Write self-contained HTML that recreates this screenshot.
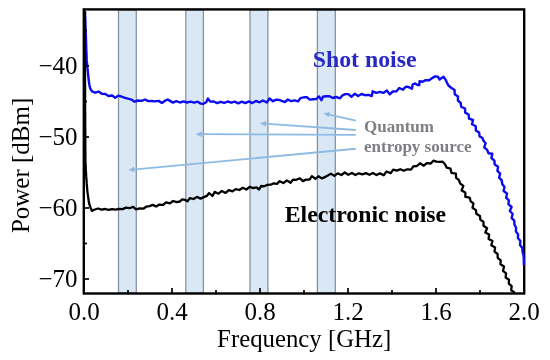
<!DOCTYPE html>
<html><head><meta charset="utf-8"><style>
html,body{margin:0;padding:0;background:#fff;}
svg{display:block;}
text{font-family:"Liberation Serif",serif;}
</style></head><body>
<svg width="550" height="360" viewBox="0 0 550 360">
<rect width="550" height="360" fill="#fff"/>
<rect x="118.5" y="10" width="17.8" height="283" fill="#dae7f4" stroke="#8290a0" stroke-width="1.25"/><rect x="185.8" y="10" width="17.6" height="283" fill="#dae7f4" stroke="#8290a0" stroke-width="1.25"/><rect x="250.0" y="10" width="17.9" height="283" fill="#dae7f4" stroke="#8290a0" stroke-width="1.25"/><rect x="317.4" y="10" width="17.9" height="283" fill="#dae7f4" stroke="#8290a0" stroke-width="1.25"/>
<g stroke="#8dbbe3" stroke-width="1.8" fill="none"><line x1="355.8" y1="120.70" x2="327.79" y2="114.30"/><line x1="355.8" y1="130.00" x2="264.49" y2="123.61"/><line x1="355.8" y1="134.90" x2="200.10" y2="134.22"/><line x1="355.8" y1="148.75" x2="132.78" y2="169.58"/></g><g fill="#8dbbe3"><path d="M323.40 113.30L329.87 111.91L328.63 117.37Z"/><path d="M260.00 123.30L266.18 120.93L265.79 126.51Z"/><path d="M195.60 134.20L201.61 131.43L201.59 137.03Z"/><path d="M128.30 170.00L134.01 166.65L134.53 172.23Z"/></g>
<rect x="83.8" y="9.4" width="440.4" height="284.1" fill="none" stroke="#000" stroke-width="2.4"/>
<path d="M85.0 11.0L85.1 14.5L85.3 18.1L85.4 21.6L85.5 25.1L85.6 28.7L85.7 32.2L85.9 35.7L86.0 39.2L86.1 42.8L86.2 46.3L86.3 49.8L86.5 53.4L86.6 56.9L86.7 60.4L87.1 63.9L87.4 67.4L87.8 71.0L88.1 74.5L88.5 78.0L88.9 81.5L89.4 85.0L90.2 88.4L92.0 91.4L95.2 92.7L98.7 91.6L101.8 93.7L105.4 94.0L108.4 96.0L112.2 95.5L115.2 97.9L118.3 95.6L121.7 96.7L125.0 97.8L128.0 98.7L131.4 99.6L134.5 101.7L138.0 100.5L141.6 100.9L145.0 99.5L148.2 101.1L151.6 101.0L155.0 101.4L158.6 100.9L161.9 102.9L164.7 100.9L167.7 99.5L170.0 100.9L172.9 102.6L176.4 101.1L180.0 102.5L183.5 101.4L187.0 102.5L190.6 101.7L194.1 102.7L197.7 101.7L200.5 103.6L203.1 103.9L206.2 102.3L207.9 98.5L210.2 101.6L213.7 101.5L217.1 103.1L220.6 101.8L224.2 102.9L227.7 101.5L231.2 102.7L234.8 101.7L238.3 103.4L241.8 101.7L245.4 103.1L248.9 101.4L252.4 103.1L255.9 100.9L259.5 102.3L262.9 100.5L266.8 102.5L269.5 98.5L273.0 101.2L276.3 99.6L279.1 99.9L281.6 100.9L284.9 102.0L287.9 99.5L291.1 101.2L294.6 100.4L298.2 101.3L300.4 98.1L303.8 97.3L306.9 97.1L309.7 99.6L312.9 99.2L316.3 99.0L318.9 96.4L321.4 100.2L322.9 96.8L326.0 96.3L329.5 96.3L332.7 98.0L336.2 97.0L340.0 98.3L342.5 95.4L345.2 94.1L348.4 94.1L351.4 96.8L354.7 93.8L358.1 96.0L361.5 94.0L365.0 95.2L368.5 94.9L371.8 96.1L372.7 91.3L376.3 92.8L379.8 91.9L383.3 92.9L386.8 90.5L389.7 94.4L392.8 91.5L396.5 91.3L399.2 88.0L403.0 89.7L404.9 87.4L407.1 86.6L409.6 87.5L411.9 88.7L412.7 84.5L415.1 83.4L417.6 85.0L419.3 85.1L419.6 81.1L422.5 81.7L425.6 80.1L429.2 80.3L432.1 78.1L435.2 76.4L437.8 76.6L439.6 79.6L441.6 78.0L443.5 76.7L445.5 79.6L447.0 82.8L448.7 85.8L451.5 88.0L454.6 90.1L454.7 94.2L458.0 96.5L457.9 100.5L460.7 103.0L461.2 106.8L465.1 108.5L465.1 112.6L468.6 114.5L469.0 118.6L473.0 120.0L472.0 124.3L475.8 126.3L475.8 130.4L479.1 132.5L479.6 136.4L482.5 138.0L483.2 140.3L485.6 143.3L484.2 147.4L487.2 149.9L488.4 153.2L492.3 153.8L491.4 158.0L494.4 160.6L494.7 164.4L498.1 166.7L497.4 170.8L500.2 173.6L499.1 177.6L501.8 180.4L502.2 184.0L504.5 187.0L503.6 191.0L507.0 193.5L506.1 197.6L508.9 200.3L508.4 204.2L511.6 207.0L509.8 211.0L512.7 214.0L511.6 217.9L514.3 220.8L514.4 224.5L516.1 227.7L515.9 231.4L518.1 234.4L517.9 238.1L520.4 241.1L520.0 244.9L522.3 247.9L522.5 251.5L523.4 254.9L523.8 258.4L523.8 262.0L523.9 265.5" fill="none" stroke="#0c0cee" stroke-width="2.4" stroke-linejoin="round"/>
<path d="M84.8 11.0L84.8 14.5L84.8 18.0L84.8 21.6L84.8 25.1L84.9 28.6L84.9 32.1L84.9 35.6L84.9 39.2L84.9 42.7L84.9 46.2L84.9 49.7L84.9 53.2L85.0 56.8L85.0 60.3L85.0 63.8L85.0 67.3L85.0 70.8L85.0 74.4L85.0 77.9L85.0 81.4L85.0 84.9L85.1 88.4L85.1 92.0L85.1 95.5L85.1 99.0L85.1 102.5L85.1 106.0L85.1 109.5L85.2 113.1L85.2 116.6L85.2 120.1L85.2 123.6L85.2 127.1L85.3 130.7L85.3 134.2L85.3 137.7L85.3 141.2L85.3 144.7L85.3 148.3L85.4 151.8L85.4 155.3L85.4 158.8L85.5 162.3L85.7 165.9L85.8 169.4L86.0 172.9L86.2 176.4L86.5 179.9L86.7 183.4L87.0 186.9L87.3 190.4L87.7 193.9L88.2 197.4L88.7 200.9L89.4 204.4L90.5 207.7L91.9 210.9L94.8 209.5L98.1 208.5L101.5 209.6L105.1 209.0L108.6 209.9L112.1 209.1L115.6 209.7L119.1 208.8L122.6 209.1L126.0 207.6L129.6 208.2L133.1 206.8L136.1 209.3L139.7 208.3L143.3 208.7L146.1 206.7L149.6 206.1L152.7 204.9L156.1 206.5L159.4 204.6L163.1 204.8L166.1 202.4L169.9 203.4L173.1 201.0L176.7 202.1L179.9 201.5L182.1 199.4L184.9 199.9L187.5 201.2L189.8 198.1L193.6 199.0L196.9 196.9L200.6 198.6L203.9 197.1L206.8 195.9L209.1 193.1L212.5 196.0L214.6 191.9L218.6 193.7L221.8 190.9L225.6 192.9L228.8 190.1L232.5 191.3L235.7 189.1L239.4 190.0L242.7 187.8L246.4 189.5L249.6 186.9L253.2 188.1L256.5 187.3L259.1 189.5L261.1 186.0L264.3 186.3L267.5 184.8L270.7 184.7L273.7 183.3L277.0 183.8L279.7 181.2L283.4 183.1L286.9 180.4L290.5 182.8L293.0 179.6L296.3 179.8L300.0 178.3L302.9 181.1L305.9 179.6L309.5 179.6L311.9 176.2L315.4 178.8L318.5 176.3L321.7 178.4L325.0 177.1L327.8 175.6L330.8 173.6L334.3 175.9L337.7 173.4L341.4 175.0L344.8 172.5L348.3 174.8L351.9 173.0L355.4 175.0L358.8 173.3L362.4 174.4L365.9 173.1L369.4 174.8L372.9 172.9L376.5 175.0L379.9 173.4L383.7 175.2L386.5 171.5L390.7 173.1L393.2 169.6L396.8 170.6L400.3 169.2L403.8 170.7L407.2 169.3L411.0 169.6L413.3 166.3L416.9 166.0L420.0 163.3L423.8 165.7L426.8 163.2L430.8 163.5L433.4 160.7L436.5 161.7L439.7 161.8L442.7 161.7L445.0 164.3L446.7 167.6L450.5 168.7L451.4 172.8L455.9 173.6L456.1 177.8L459.0 180.1L460.1 183.5L463.4 185.9L461.6 190.4L465.3 192.5L465.4 196.9L469.7 197.6L470.6 201.1L473.5 203.6L472.5 207.8L475.9 210.1L476.4 213.8L479.9 215.9L480.4 219.7L483.5 221.9L483.5 225.8L487.1 228.3L485.3 232.5L489.1 234.6L488.6 238.9L492.5 240.9L491.3 245.2L495.1 247.4L494.5 251.6L497.6 254.0L497.7 257.8L500.7 260.3L500.5 264.3L504.0 266.5L503.0 270.9L506.1 273.3L505.6 277.5L509.0 279.8L508.8 283.7L511.7 286.2L511.2 290.2L514.8 292.7" fill="none" stroke="#000" stroke-width="2.3" stroke-linejoin="round"/>
<g stroke="#000" stroke-width="1.7"><line x1="128" y1="293" x2="128" y2="290"/><line x1="172" y1="293" x2="172" y2="288"/><line x1="216" y1="293" x2="216" y2="290"/><line x1="260" y1="293" x2="260" y2="288"/><line x1="304" y1="293" x2="304" y2="290"/><line x1="348" y1="293" x2="348" y2="288"/><line x1="392" y1="293" x2="392" y2="290"/><line x1="436" y1="293" x2="436" y2="288"/><line x1="480" y1="293" x2="480" y2="290"/><line x1="84" y1="30.5" x2="87" y2="30.5"/><line x1="84" y1="66.0" x2="89" y2="66.0"/><line x1="84" y1="101.5" x2="87" y2="101.5"/><line x1="84" y1="137.0" x2="89" y2="137.0"/><line x1="84" y1="172.5" x2="87" y2="172.5"/><line x1="84" y1="208.0" x2="89" y2="208.0"/><line x1="84" y1="243.5" x2="87" y2="243.5"/><line x1="84" y1="279.0" x2="89" y2="279.0"/></g>
<g font-size="25" text-anchor="middle" fill="#000"><text x="84" y="320">0.0</text><text x="172" y="320">0.4</text><text x="260" y="320">0.8</text><text x="348" y="320">1.2</text><text x="436" y="320">1.6</text><text x="524" y="320">2.0</text></g>
<g font-size="25" text-anchor="end" fill="#000"><text x="77.6" y="73.6">&#8722;40</text><text x="77.6" y="144.6">&#8722;50</text><text x="77.6" y="215.6">&#8722;60</text><text x="77.6" y="286.6">&#8722;70</text></g>
<text x="304.2" y="346.8" font-size="24.8" text-anchor="middle">Frequency [GHz]</text>
<text transform="translate(28.6,165.4) rotate(-90)" font-size="25" text-anchor="middle">Power [dBm]</text>
<text x="312.7" y="67.0" font-size="23.8" font-weight="bold" fill="#2828c4">Shot noise</text>
<text x="284.7" y="222.3" font-size="23.8" font-weight="bold" fill="#000">Electronic noise</text>
<text x="364" y="131.7" font-size="17" font-weight="bold" fill="#7d7f84">Quantum</text>
<text x="364" y="151.8" font-size="17" font-weight="bold" fill="#7d7f84">entropy source</text>
</svg>
</body></html>
